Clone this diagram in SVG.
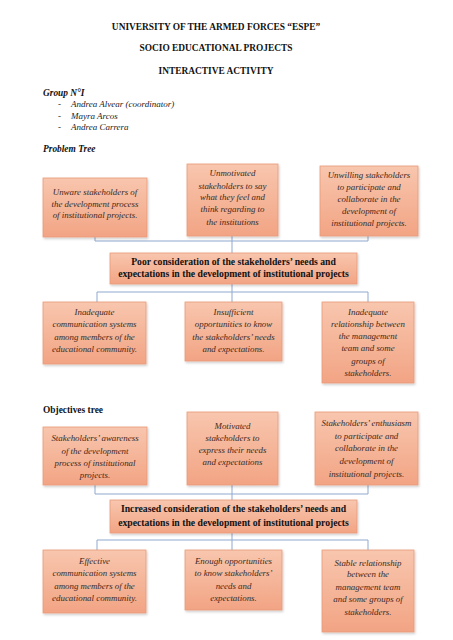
<svg xmlns="http://www.w3.org/2000/svg" width="453" height="640" viewBox="0 0 453 640">
<defs>
<linearGradient id="g" x1="0" y1="0" x2="0" y2="1">
<stop offset="0" stop-color="#f8c6ae"/>
<stop offset="1" stop-color="#f2a484"/>
</linearGradient>
<filter id="sh" x="-10%" y="-10%" width="120%" height="130%">
<feDropShadow dx="1" dy="1.5" stdDeviation="0.8" flood-color="#000" flood-opacity="0.2"/>
</filter>
<style>
.t{font-family:"Liberation Serif",serif;font-size:9.4px;font-weight:bold;fill:#111;text-anchor:middle}
.h{font-family:"Liberation Serif",serif;font-size:9.4px;font-weight:bold;font-style:italic;fill:#111}
.ho{font-family:"Liberation Serif",serif;font-size:9.4px;font-weight:bold;fill:#111}
.l{font-family:"Liberation Serif",serif;font-size:9px;font-style:italic;fill:#222}
.b rect{fill:url(#g);stroke:#e99a78;stroke-width:0.8;filter:url(#sh)}
.b text{font-family:"Liberation Serif",serif;font-size:8.9px;font-style:italic;fill:#3a2a22;text-anchor:middle}
.c rect{fill:url(#g);stroke:#e99a78;stroke-width:0.8;filter:url(#sh)}
.c text{font-family:"Liberation Serif",serif;font-size:9.7px;font-weight:bold;fill:#111;text-anchor:middle}
.cn path{fill:none;stroke:#8fa9cf;stroke-width:1}
</style>
</defs>
<rect width="453" height="640" fill="#fff"/>
<text class="t" x="216" y="30">UNIVERSITY OF THE ARMED FORCES “ESPE”</text>
<text class="t" x="216" y="51">SOCIO EDUCATIONAL  PROJECTS</text>
<text class="t" x="216" y="74">INTERACTIVE ACTIVITY</text>
<text class="h" x="43" y="96">Group N°I</text>
<text class="l" x="58" y="107">-</text><text class="l" x="71" y="107">Andrea Alvear (coordinator)</text>
<text class="l" x="58" y="119">-</text><text class="l" x="71" y="119">Mayra Arcos</text>
<text class="l" x="58" y="130">-</text><text class="l" x="71" y="130">Andrea Carrera</text>
<text class="h" x="43" y="152">Problem Tree</text>
<text class="ho" x="43" y="413">Objectives tree</text>

<g class="cn" id="connectors">
<path d="M95 237V241H368V236M232 236V253"/>
<path d="M232 284V292M97 302V292H368V302M232 292V302"/>
<path d="M95 485V494H368V485M232 485V500"/>
<path d="M232 533V540M97 550V540H368V550M232 540V550"/>
</g>

<g class="b" id="p1"><rect x="43" y="178" width="104" height="59"/>
<text x="95" y="195">Unware stakeholders  of</text><text x="95" y="206.5">the development process</text><text x="95" y="218">of institutional projects.</text></g>
<g class="b" id="p2"><rect x="187" y="164" width="91" height="72"/>
<text x="232.5" y="176">Unmotivated</text><text x="232.5" y="188.5">stakeholders to say</text><text x="232.5" y="200">what they feel and</text><text x="232.5" y="212">think regarding to</text><text x="232.5" y="225">the institutions</text></g>
<g class="b" id="p3"><rect x="320" y="166" width="98" height="70"/>
<text x="369" y="178">Unwilling stakeholders</text><text x="369" y="190">to participate and</text><text x="369" y="202">collaborate in the</text><text x="369" y="214">development of</text><text x="369" y="226">institutional  projects.</text></g>
<g class="c" id="pc"><rect x="110" y="253" width="247" height="31"/>
<text x="233.5" y="264.5">Poor consideration of the stakeholders’ needs and</text><text x="233.5" y="277">expectations in the development of institutional  projects</text></g>
<g class="b" id="p4"><rect x="43" y="302" width="103" height="62"/>
<text x="94.5" y="315">Inadequate</text><text x="94.5" y="327">communication systems</text><text x="94.5" y="340">among members of the</text><text x="94.5" y="352">educational community.</text></g>
<g class="b" id="p5"><rect x="185" y="302" width="97" height="59"/>
<text x="233.5" y="315">Insufficient</text><text x="233.5" y="327">opportunities to know</text><text x="233.5" y="340">the stakeholders’ needs</text><text x="233.5" y="352">and expectations.</text></g>
<g class="b" id="p6"><rect x="322" y="302" width="92" height="81"/>
<text x="368" y="315">Inadequate</text><text x="368" y="327">relationship  between</text><text x="368" y="339">the management</text><text x="368" y="351">team and some</text><text x="368" y="364">groups of</text><text x="368" y="376">stakeholders.</text></g>

<g class="b" id="o1"><rect x="43" y="427" width="104" height="58"/>
<text x="95" y="441">Stakeholders’ awareness</text><text x="95" y="454">of the development</text><text x="95" y="465.5">process of institutional</text><text x="95" y="478">projects.</text></g>
<g class="b" id="o2"><rect x="187" y="412" width="91" height="73"/>
<text x="232.5" y="429">Motivated</text><text x="232.5" y="441">stakeholders  to</text><text x="232.5" y="453">express their needs</text><text x="232.5" y="465">and expectations</text></g>
<g class="b" id="o3"><rect x="315" y="412" width="103" height="73"/>
<text x="366.5" y="426">Stakeholders’ enthusiasm</text><text x="366.5" y="439">to participate and</text><text x="366.5" y="451">collaborate in the</text><text x="366.5" y="464">development of</text><text x="366.5" y="477">institutional  projects.</text></g>
<g class="c" id="oc"><rect x="110" y="500" width="247" height="33"/>
<text x="233.5" y="512">Increased consideration of the stakeholders’ needs and</text><text x="233.5" y="525.5">expectations in the development of institutional  projects</text></g>
<g class="b" id="o4"><rect x="43" y="550" width="103" height="63"/>
<text x="94.5" y="564">Effective</text><text x="94.5" y="576">communication systems</text><text x="94.5" y="589">among members of the</text><text x="94.5" y="601">educational community.</text></g>
<g class="b" id="o5"><rect x="185" y="550" width="97" height="60"/>
<text x="233.5" y="564">Enough opportunities</text><text x="233.5" y="576">to know stakeholders’</text><text x="233.5" y="589">needs and</text><text x="233.5" y="601">expectations.</text></g>
<g class="b" id="o6"><rect x="322" y="550" width="92" height="82"/>
<text x="368" y="566">Stable relationship</text><text x="368" y="577">between  the</text><text x="368" y="590">management  team</text><text x="368" y="602">and some groups of</text><text x="368" y="615">stakeholders.</text></g>
</svg>
